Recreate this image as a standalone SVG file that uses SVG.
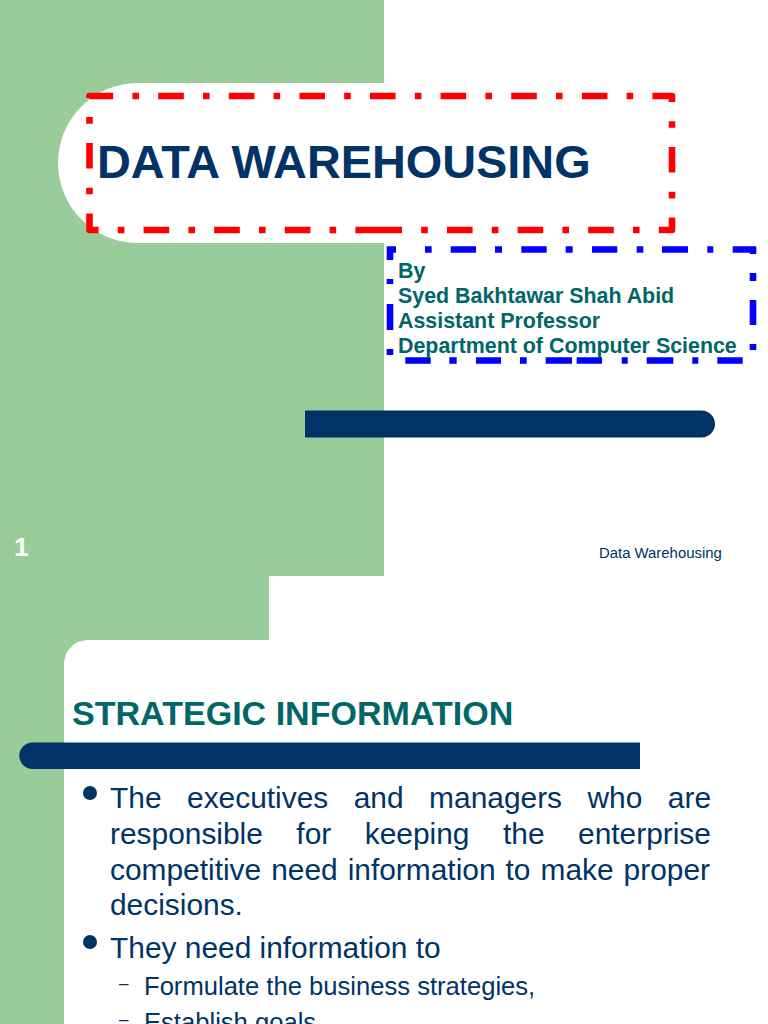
<svg xmlns="http://www.w3.org/2000/svg" width="768" height="1024" viewBox="0 0 768 1024">
<style>
text{font-family:"Liberation Sans",Arial,sans-serif;white-space:pre}
.navy{fill:#003366}
.teal{fill:#006666;font-weight:bold}
.green{fill:#99CC99}
.b{font-size:29.9px}
.s{font-size:25.6px}
.d{font-size:17px}
.by{font-size:21.4px}
</style>
<rect width="768" height="1024" fill="#fff"/>
<g id="slide1-background">
<rect class="green" x="0" y="0" width="384" height="576"/>
<path fill="#fff" d="M384 83H138A80 80 0 0 0 138 243H384Z"/>
<path class="navy" d="M305 410.5H701.5A13.5 13.5 0 0 1 701.5 437.5H305Z"/>
</g>
<g id="title">
<path fill="none" stroke="#f00" stroke-width="6.6" stroke-linejoin="round" stroke-dasharray="25.6 19.2 6.6 19.2" d="M381 230H89.5V96H672V230H381"/>
<text class="navy" x="97" y="178" font-size="46.85" font-weight="bold">DATA WAREHOUSING</text>
</g>
<g id="author">
<path fill="none" stroke="#00f" stroke-width="6.6" d="M396 249.5H390V260M425 249.5H431.7M450.7 249.5H476M495 249.5H502M521.3 249.5H546.7M565.7 249.5H572.7M592 249.5H617.3M636.7 249.5H643.3M662 249.5H688M707.3 249.5H713.3M732.7 249.5H753V254M753 273V281M753 300V325M753 344V350M742.7 360.5H717.3M698.3 360.5H692.3M673.3 360.5H646.7M627.7 360.5H621.7M602 360.5H576.7M572 360.5H545.7M526.7 360.5H520M501 360.5H476M456.7 360.5H449.3M430.7 360.5H405.3M390 355V349M390 330V304M390 284V279"/>
<text class="teal by" x="398" y="278">By</text>
<text class="teal by" x="398" y="303">Syed Bakhtawar Shah Abid</text>
<text class="teal by" x="398" y="328">Assistant Professor</text>
<text class="teal by" x="398" y="352.5">Department of Computer Science</text>
</g>
<g id="footer">
<text x="14" y="556" font-size="26.5" font-weight="bold" fill="#fff">1</text>
<text class="navy" x="599" y="558" font-size="14.9">Data Warehousing</text>
</g>
<g id="slide2-background">
<rect class="green" x="0" y="576" width="269" height="64"/>
<path class="green" d="M0 640H88A24 24 0 0 0 64 664V1024H0Z"/>
<path class="navy" d="M640 742.5H32.5A13.25 13.25 0 0 0 32.5 769H640Z"/>
</g>
<g id="content">
<text class="teal" x="72" y="725" font-size="34.05">STRATEGIC INFORMATION</text>
<circle class="navy" cx="90" cy="793" r="7"/>
<text class="navy b" x="110" y="808" word-spacing="17.2">The executives and managers who are</text>
<text class="navy b" x="110" y="844" word-spacing="25.2">responsible for keeping the enterprise</text>
<text class="navy b" x="110" y="880" word-spacing="1.7">competitive need information to make proper</text>
<text class="navy b" x="110" y="915">decisions.</text>
<circle class="navy" cx="90" cy="942" r="7"/>
<text class="navy b" x="110" y="958">They need information to</text>
<text class="navy d" x="119" y="989">–</text>
<text class="navy s" x="144" y="995">Formulate the business strategies,</text>
<text class="navy d" x="119" y="1025">–</text>
<text class="navy s" x="144" y="1031">Establish goals</text>
</g>
</svg>
